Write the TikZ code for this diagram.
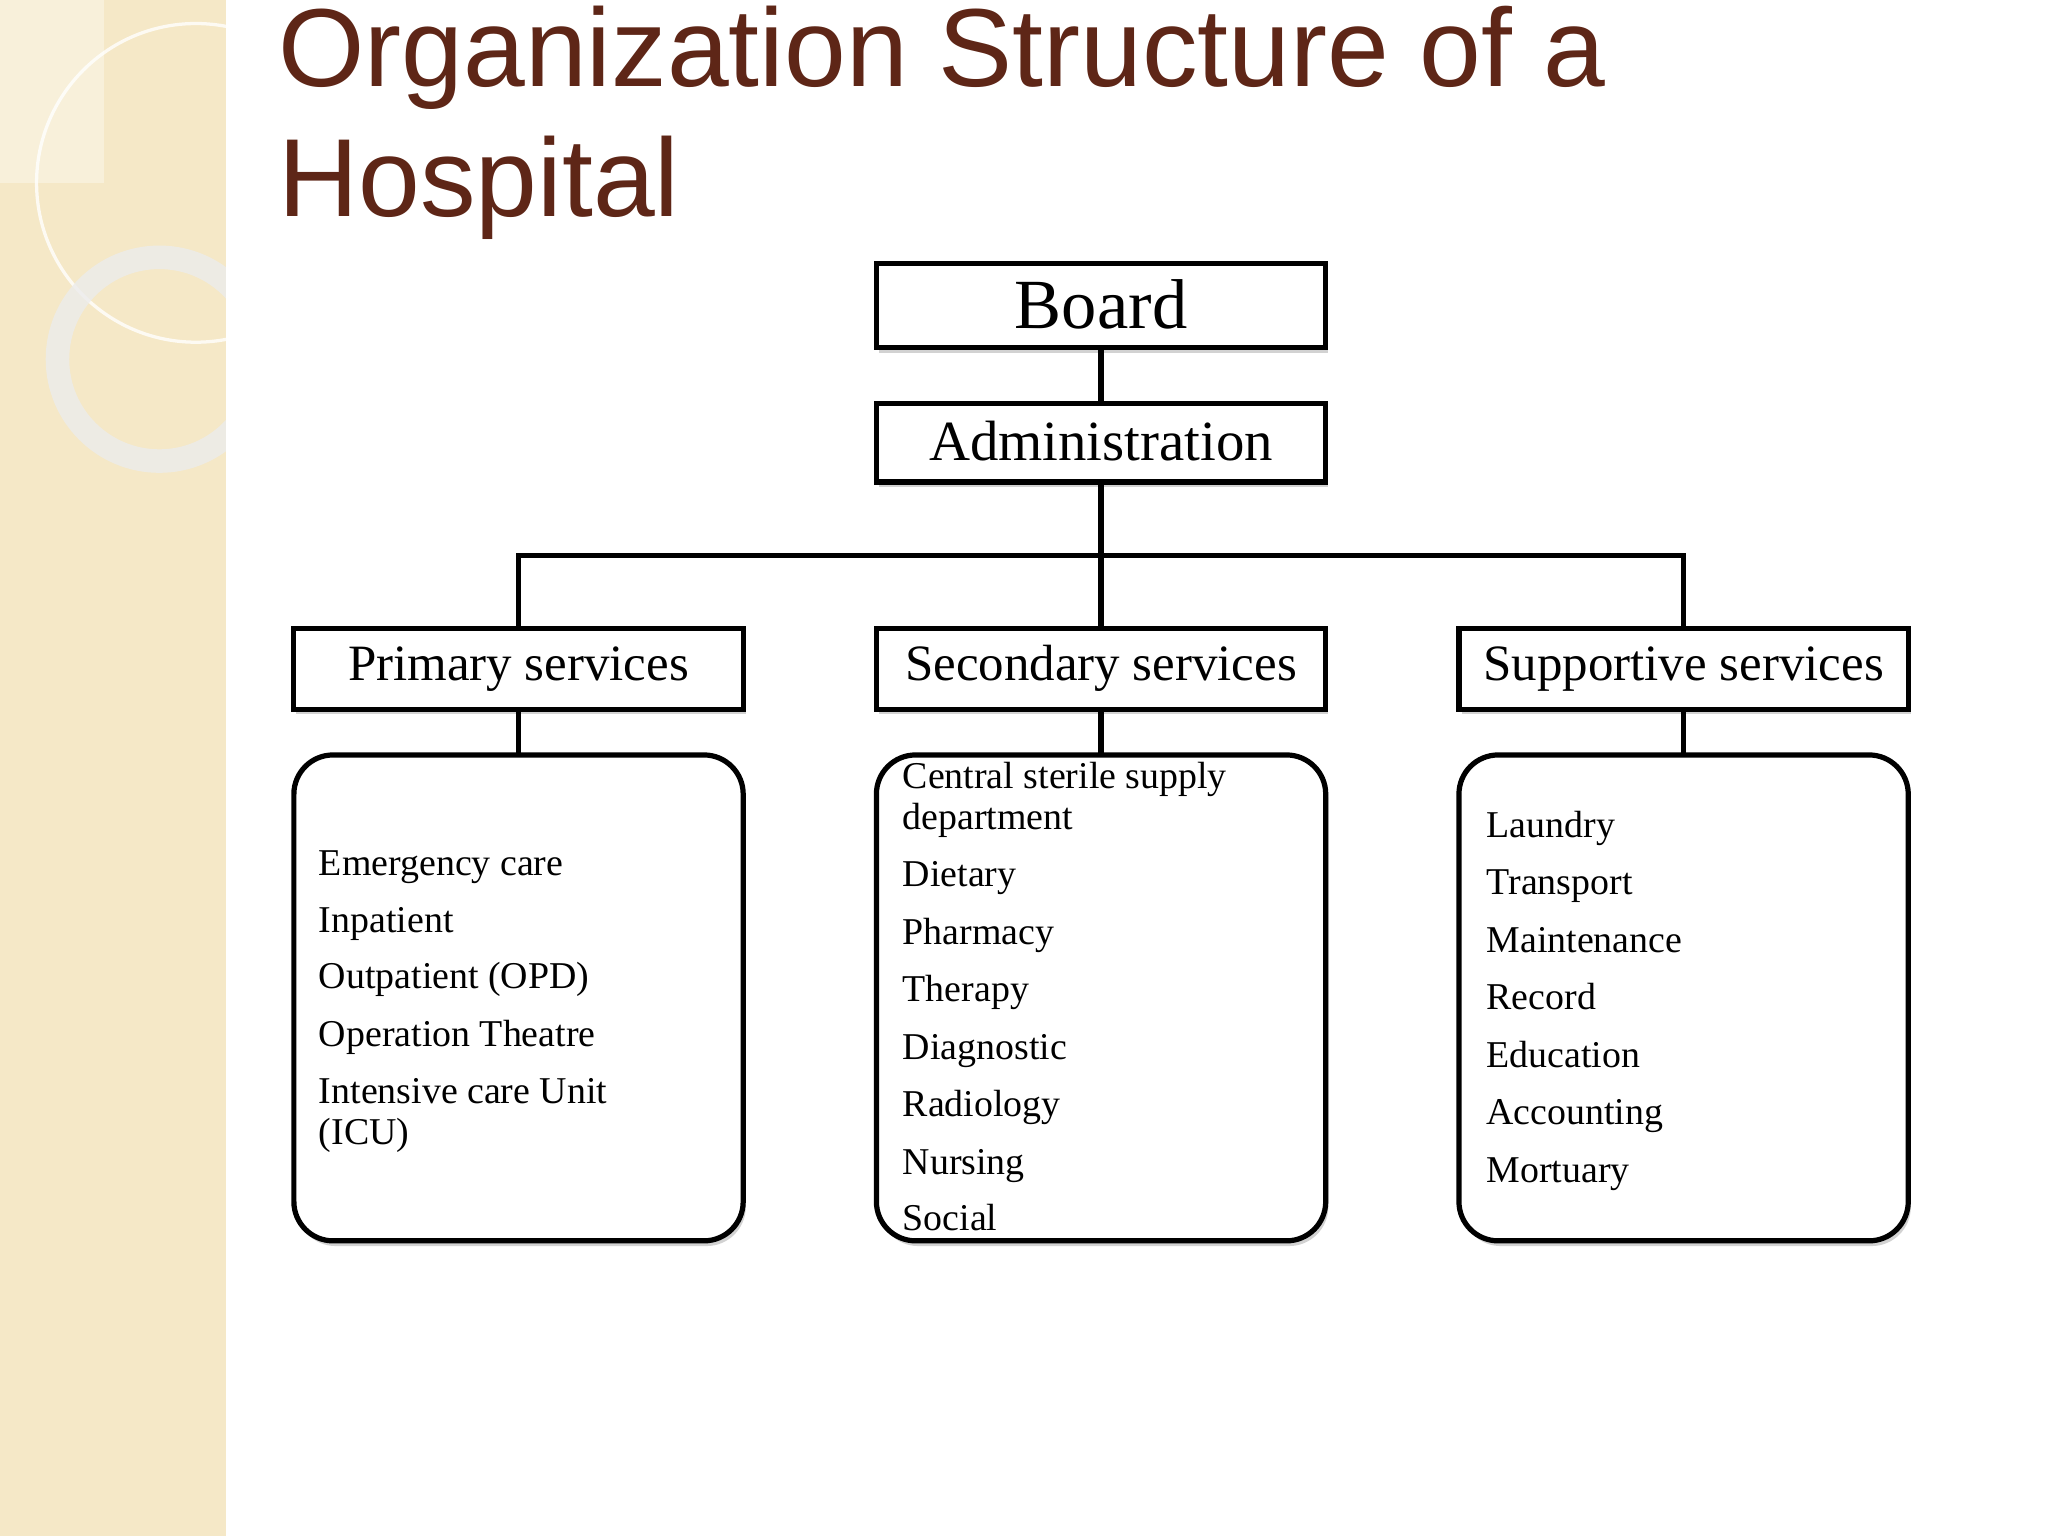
\documentclass[tikz,border=0pt]{standalone}
\usepackage{fontspec}
\setmainfont{Liberation Serif}
\newfontfamily\titlefont{Liberation Sans}
\usetikzlibrary{shadows}
\definecolor{strip}{rgb}{0.96,0.91,0.78}
\definecolor{titlec}{rgb}{0.37,0.15,0.09}
\tikzset{
 box/.style={draw,line width=4pt,fill=white,drop shadow={shadow xshift=2pt,shadow yshift=-4pt,opacity=0.35,fill=gray}},
 conn/.style={line width=4pt},
 item/.style={anchor=base west,inner sep=0pt,font=\fontsize{29}{31}\selectfont},
}
\begin{document}
\begin{tikzpicture}[x=1pt,y=-1pt]
\useasboundingbox (0,0) rectangle (1568,1176);
\fill[white] (0,0) rectangle (1568,1176);
\fill[strip] (0,0) rectangle (173,1176);
\begin{scope}
\clip (0,0) rectangle (173,1176);
\fill[white,opacity=0.35] (0,0) rectangle (80,140);
\draw[white,opacity=0.8,line width=2.5pt] (150,140) circle (122);
\draw[white!85!gray,line width=18pt,opacity=0.8] (122,275) circle (78);
\end{scope}
\node[anchor=base west,inner sep=0pt,text=titlec,font=\titlefont\fontsize{85}{85}\selectfont] (t1) at (213,66) {Organization Structure of a};
\node[anchor=base west,inner sep=0pt,text=titlec,font=\titlefont\fontsize{85}{85}\selectfont] (t2) at (213,166) {Hospital};

\path[box] (671,202) rectangle (1015,266);
\node (board) at (843,233) {\fontsize{54}{54}\selectfont Board};
\path[box] (671,309) rectangle (1015,369);
\node (admin) at (843,338) {\fontsize{43.5}{44}\selectfont Administration};
\coordinate (bb) at (843,266); \coordinate (at) at (843,309);
\draw[conn] (bb) -- (at);
\coordinate (ab) at (843,369); \coordinate (hm) at (843,425);
\coordinate (hl) at (397,425); \coordinate (hr) at (1289,425);
\draw[conn] (ab) -- (hm);
\draw[conn] (397,481) -- (hl) -- (hr) -- (1289,481);
\draw[conn] (hm) -- (843,481);
\foreach \x/\t/\n in {225/Primary services/p,671/Secondary services/s,1117/Supportive services/u}{
 \path[box] (\x,481) rectangle ++(344,62);
 \node (\n) at (\x+172,512) {\fontsize{39}{39}\selectfont \t};
 \draw[conn] (\x+172,543) -- (\x+172,578);
 \path[box,rounded corners=30pt] (\x,578) rectangle ++(344,372);
}
\node[item] (p1) at (244,670) {Emergency care};
\node[item] (p2) at (244,714) {Inpatient};
\node[item] (p3) at (244,757) {Outpatient (OPD)};
\node[item] (p4) at (244,801) {Operation Theatre};
\node[item] (p5) at (244,845) {Intensive care Unit};
\node[item] (p6) at (244,876) {(ICU)};
\node[item] (s1) at (691,604) {Central sterile supply};
\node[item] (s2) at (691,635) {department};
\node[item] (s3) at (691,679) {Dietary};
\node[item] (s4) at (691,723) {Pharmacy};
\node[item] (s5) at (691,767) {Therapy};
\node[item] (s6) at (691,811) {Diagnostic};
\node[item] (s7) at (691,855) {Radiology};
\node[item] (s8) at (691,899) {Nursing};
\node[item] (s9) at (691,942) {Social};
\node[item] (u1) at (1138,641) {Laundry};
\node[item] (u2) at (1138,685) {Transport};
\node[item] (u3) at (1138,729) {Maintenance};
\node[item] (u4) at (1138,773) {Record};
\node[item] (u5) at (1138,817) {Education};
\node[item] (u6) at (1138,861) {Accounting};
\node[item] (u7) at (1138,905) {Mortuary};
\end{tikzpicture}
\end{document}
